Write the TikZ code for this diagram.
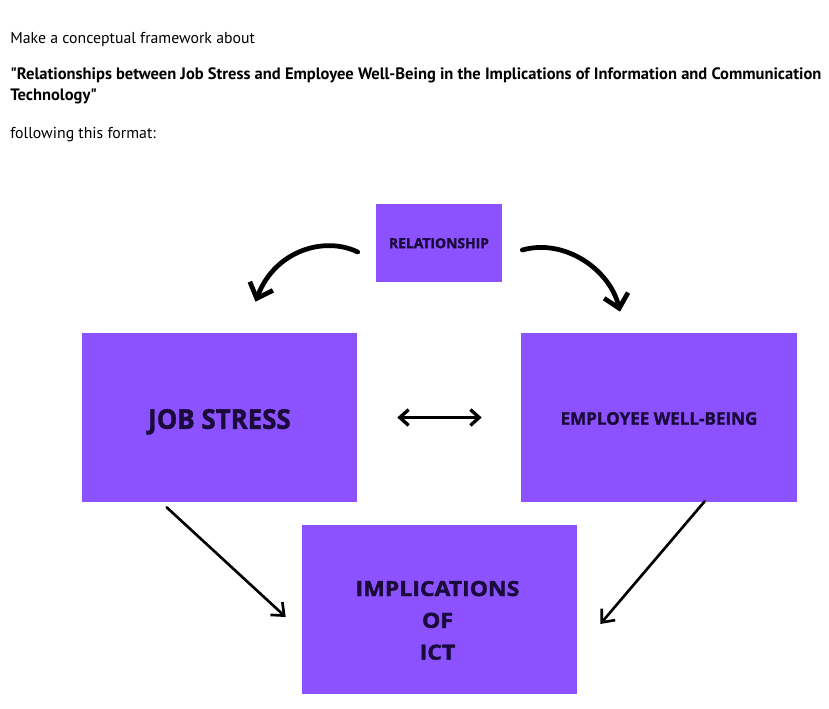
\documentclass[tikz,border=0pt]{standalone}
\usepackage{fontspec}
\usepackage{graphicx}
\setmainfont{PT Sans}
\newfontfamily\boxfont[BoldFeatures={FakeBold=1.6}]{Open Sans}
\usetikzlibrary{arrows.meta,positioning,calc}
\definecolor{boxpurple}{HTML}{8C52FF}
\definecolor{inkdark}{HTML}{1A0B3B}
\newcommand{\cond}[2][0.78]{\scalebox{#1}[1]{\begin{tabular}{@{}c@{}}#2\end{tabular}}}

\begin{document}
\begin{tikzpicture}[x=0.02cm,y=-0.02cm,
	pbox/.style={fill=boxpurple, draw=none, inner sep=0pt},
	ptext/.style={text=inkdark, font=\boxfont\bfseries, inner sep=0pt, align=center},
	bigarrow/.style={-{Straight Barb[length=7.5pt,width=14pt]}, line width=2.7pt, line cap=round},
	thinarrow/.style={-{Straight Barb[length=6pt,width=10pt]}, line width=1.5pt, line cap=round}]
		\useasboundingbox (0,0) rectangle (829,709);

		% question text
		\node[anchor=base west, inner sep=0pt, font=\fontsize{9}{11}\selectfont] (intro) at (10,44) {Make a conceptual framework about};
		\node[anchor=base west, inner sep=0pt, font=\fontsize{9.4}{11}\selectfont\bfseries] (topic) at (10,80)
			{\textquotedbl Relationships between Job Stress and Employee Well-Being in the Implications of Information and Communication};
		\node[anchor=base west, inner sep=0pt, font=\fontsize{9.4}{11}\selectfont\bfseries] (topicend) at (10,101) {Technology\textquotedbl};
		\node[anchor=base west, inner sep=0pt, font=\fontsize{9}{11}\selectfont] (format) at (10,139) {following this format:};

		% boxes
		\node[pbox, minimum width=2.52cm, minimum height=1.56cm] (rel) at (439,243) {};
		\node[pbox, minimum width=5.5cm, minimum height=3.38cm] (job) at (219.5,417.5) {};
		\node[pbox, minimum width=5.52cm, minimum height=3.38cm] (emp) at (659,417.5) {};
		\node[pbox, minimum width=5.5cm, minimum height=3.38cm] (impl) at (439.5,609.5) {};

		% box texts
		\node[ptext, font=\boxfont\bfseries\fontsize{7.9}{9}\selectfont] (reltext) at ($(rel.center)+(0,2)$) {\cond[1.0]{RELATIONSHIP}};
		\node[ptext, font=\boxfont\bfseries\fontsize{15.5}{18}\selectfont] (jobtext) at ($(job.center)+(0,5)$) {\cond[0.95]{JOB STRESS}};
		\node[ptext, font=\boxfont\bfseries\fontsize{9.9}{12}\selectfont] (emptext) at ($(emp.center)+(0,3)$) {\cond[0.98]{EMPLOYEE WELL-BEING}};
		\node[ptext, font=\boxfont\bfseries\fontsize{11.9}{18.1}\selectfont] (impltext) at ($(impl.center)+(-2,12)$) {\cond[1.1]{IMPLICATIONS\\OF\\ICT}};

		% arrows
		\draw[bigarrow] ($(rel.west)+(-18,9)$) .. controls (325,236) and (275,250) .. ($(job.north)+(36,-31)$);
		\draw[bigarrow] ($(rel.east)+(20,7)$) .. controls (565,238) and (610,270) .. ($(emp.north)+(-39,-21)$);
		\draw[{Straight Barb[length=5pt,width=9pt]}-{Straight Barb[length=5pt,width=9pt]}, line width=1.9pt, shorten <=0.8cm, shorten >=0.78cm] (job.east) -- (emp.west);
		\draw[thinarrow] ($(job.south west)+(85,5)$) -- ($(impl.west)+(-16,7.5)$);
		\draw[thinarrow] ($(emp.south west)+(184,-1)$) -- ($(impl.east)+(23,14.5)$);
	\end{tikzpicture}
\end{document}
